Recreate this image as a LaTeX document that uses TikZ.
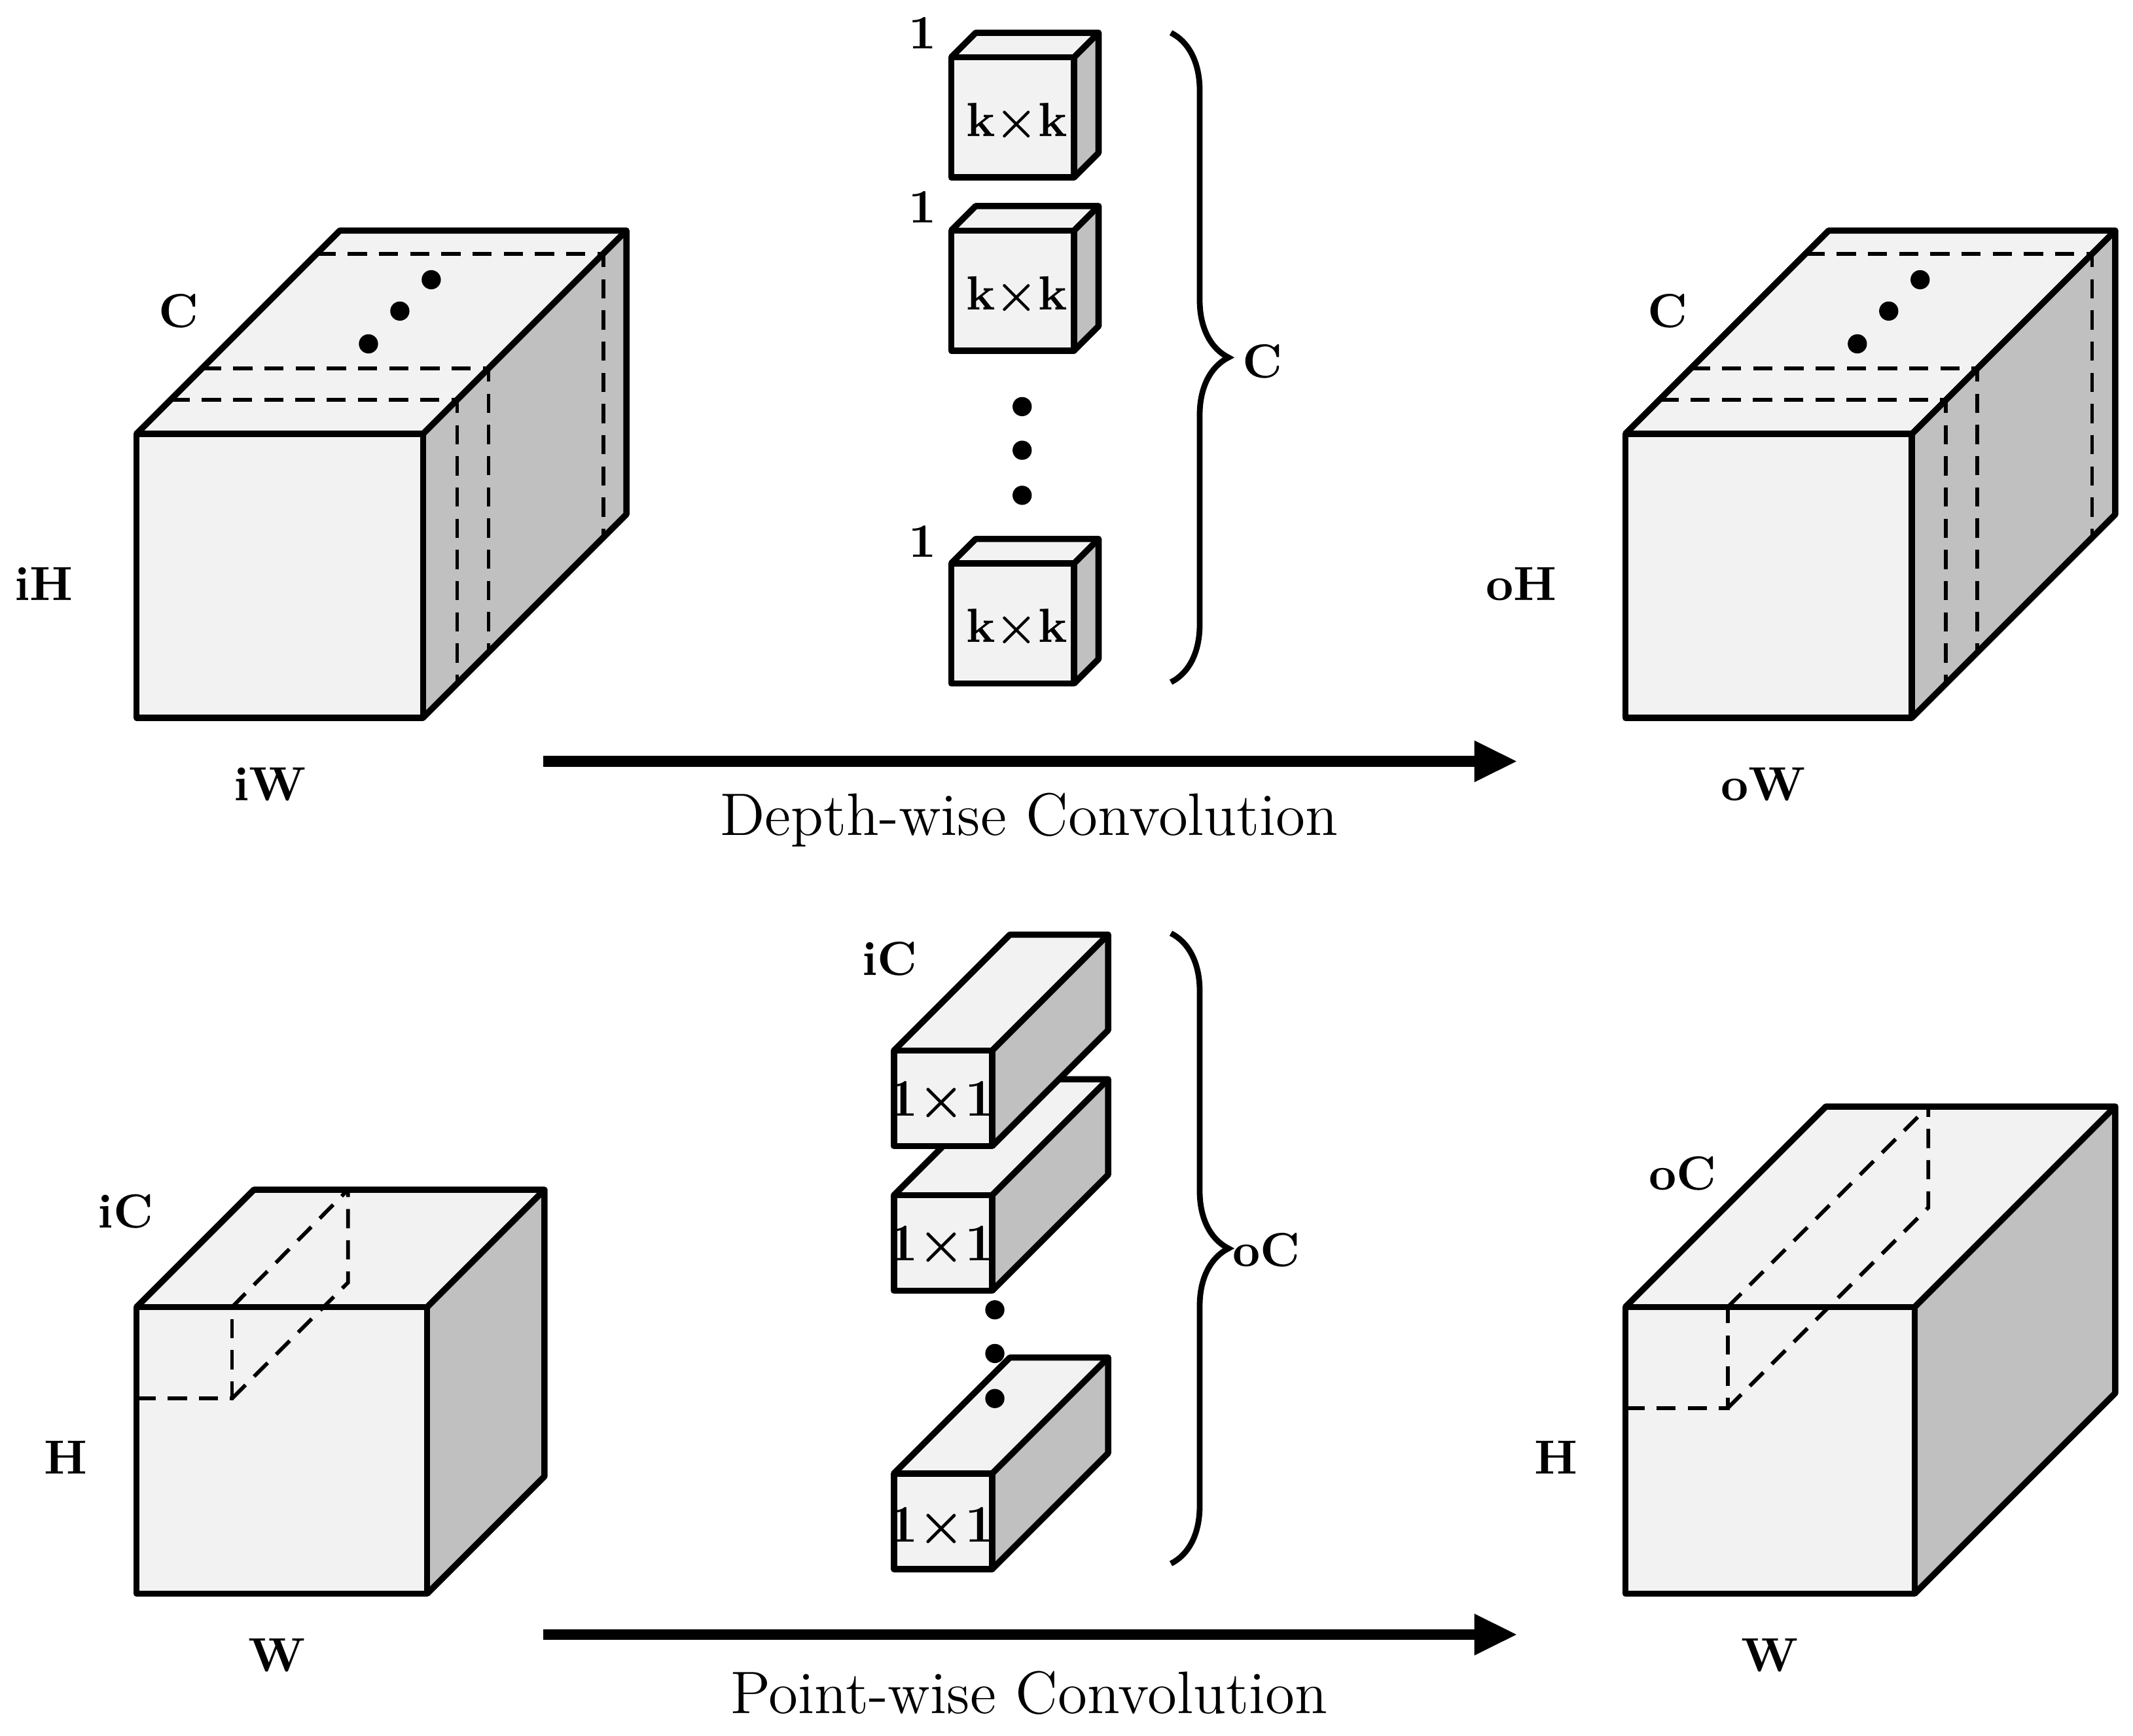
\documentclass[tikz,border=0pt]{standalone}
\usepackage{amsmath,amssymb}
\usetikzlibrary{arrows.meta,decorations.pathreplacing}
\definecolor{frontc}{HTML}{F2F2F2}
\definecolor{sidec}{HTML}{C0C0C0}
\tikzset{
 edge/.style={line width=1.3pt,line join=round},
 dsh/.style={line width=0.8pt,dash pattern=on 4pt off 2.5pt},
 lbl/.style={font=\bfseries\fontsize{10}{12}\selectfont},
 captxt/.style={font=\fontsize{12.5}{15}\selectfont},
 bigarrow/.style={line width=2.2pt,-{Triangle[length=9pt,width=8pt]}},
 dot/.style={circle,fill=black,inner sep=0pt,minimum size=4pt},
 brc/.style={line width=1.2pt,decorate,decoration={brace,amplitude=12pt}}
}
\newcommand\btimes{\ensuremath{\boldsymbol{\times}}}
% x y w h d  (front top-left at x,y; depth offset d)
\newcommand\boxc[5]{%
 \fill[frontc] (#1,#2) rectangle ++(#3,#4);
 \fill[frontc] (#1,#2) -- ++(#5,-#5) -- ++(#3,0) -- ++(-#5,#5) -- cycle;
 \fill[sidec] (#1+#3,#2) -- ++(#5,-#5) -- ++(0,#4) -- ++(-#5,#5) -- cycle;
 \draw[edge] (#1,#2) rectangle ++(#3,#4);
 \draw[edge] (#1,#2) -- ++(#5,-#5) -- ++(#3,0) -- ++(0,#4) -- ++(-#5,#5);
 \draw[edge] (#1+#3,#2) -- ++(#5,-#5);}
\begin{document}
\begin{tikzpicture}[x=0.01cm,y=-0.01cm]
\useasboundingbox (0,0) rectangle (1563,1272);
% ---------- top-left cube
\boxc{100}{318}{210}{208}{149}
\draw[dsh] (125,293) -- (335,293) -- (335,501);
\draw[dsh] (148,270) -- (358,270) -- (358,478);
\draw[dsh] (232,186) -- (442,186) -- (442,394);
\node[dot] (d1) at (270,252) {};\node[dot] (d2) at (293,228) {};\node[dot] (d3) at (316,205) {};
\node[lbl] (c1) at (131,228) {C};
\node[lbl] (ih) at (32,428) {iH};
\node[lbl] (iw) at (198,575) {iW};
% ---------- top-right cube
\boxc{1191}{318}{210}{208}{149}
\draw[dsh] (1216,293) -- (1426,293) -- (1426,501);
\draw[dsh] (1239,270) -- (1449,270) -- (1449,478);
\draw[dsh] (1323,186) -- (1533,186) -- (1533,394);
\node[dot] (d4) at (1361,252) {};\node[dot] (d5) at (1384,228) {};\node[dot] (d6) at (1407,205) {};
\node[lbl] (c2) at (1222,228) {C};
\node[lbl] (oh) at (1115,428) {oH};
\node[lbl] (ow) at (1292,575) {oW};
% ---------- depthwise kernels
\boxc{697}{42}{90}{88}{18}
\boxc{697}{169}{90}{88}{18}
\boxc{697}{413}{90}{88}{18}
\node[lbl] (k1) at (745,90) {k\btimes k};
\node[lbl] (k2) at (745,217) {k\btimes k};
\node[lbl] (k3) at (745,461) {k\btimes k};
\node[lbl] (o1) at (676,24) {1};
\node[lbl] (o2) at (676,152) {1};
\node[lbl] (o3) at (676,397) {1};
\node[dot] (e1) at (749,298) {};\node[dot] (e2) at (749,330) {};\node[dot] (e3) at (749,363) {};
\draw[brc] (858,24) -- (858,500);
\node[lbl] (cb) at (925,265) {C};
% arrow 1
\coordinate (a1s) at (398,558); \coordinate (a1e) at (1112,558);
\draw[bigarrow] (a1s) -- (a1e);
\node[captxt] (t1) at (754,601) {Depth-wise Convolution};
% ---------- bottom-left cube
\boxc{100}{958}{213}{210}{86}
\draw[dsh] (100,1025) -- (170,1025) -- (170,958);
\draw[dsh] (170,1025) -- (255,940) -- (255,872);
\draw[dsh] (170,958) -- (255,872);
\node[lbl] (ic1) at (92,888) {iC};
\node[lbl] (h1) at (48,1068) {H};
\node[lbl] (w1) at (203,1213) {W};
% ---------- bottom-right cube
\boxc{1191}{958}{212}{210}{147}
\draw[dsh] (1191,1032) -- (1266,1032) -- (1266,958);
\draw[dsh] (1266,1032) -- (1413,885) -- (1413,811);
\draw[dsh] (1266,958) -- (1413,811);
\node[lbl] (oc1) at (1233,860) {oC};
\node[lbl] (h2) at (1140,1068) {H};
\node[lbl] (w2) at (1297,1213) {W};
% ---------- pointwise kernels
\boxc{655}{1080}{72}{70}{85}
\boxc{655}{876}{72}{70}{85}
\boxc{655}{770}{72}{70}{85}
\node[lbl,font=\bfseries\fontsize{11}{13}\selectfont] (p1) at (690,808) {1\btimes 1};
\node[lbl,font=\bfseries\fontsize{11}{13}\selectfont] (p2) at (690,914) {1\btimes 1};
\node[lbl,font=\bfseries\fontsize{11}{13}\selectfont] (p3) at (690,1120) {1\btimes 1};
\node[lbl] (icl) at (652,703) {iC};
\node[dot] (f1) at (729,960) {};\node[dot] (f2) at (729,992) {};\node[dot] (f3) at (729,1025) {};
\draw[brc] (858,684) -- (858,1146);
\node[lbl] (ocb) at (928,916) {oC};
% arrow 2
\coordinate (a2s) at (398,1198); \coordinate (a2e) at (1112,1198);
\draw[bigarrow] (a2s) -- (a2e);
\node[captxt] (t2) at (754,1241) {Point-wise Convolution};
\end{tikzpicture}
\end{document}
